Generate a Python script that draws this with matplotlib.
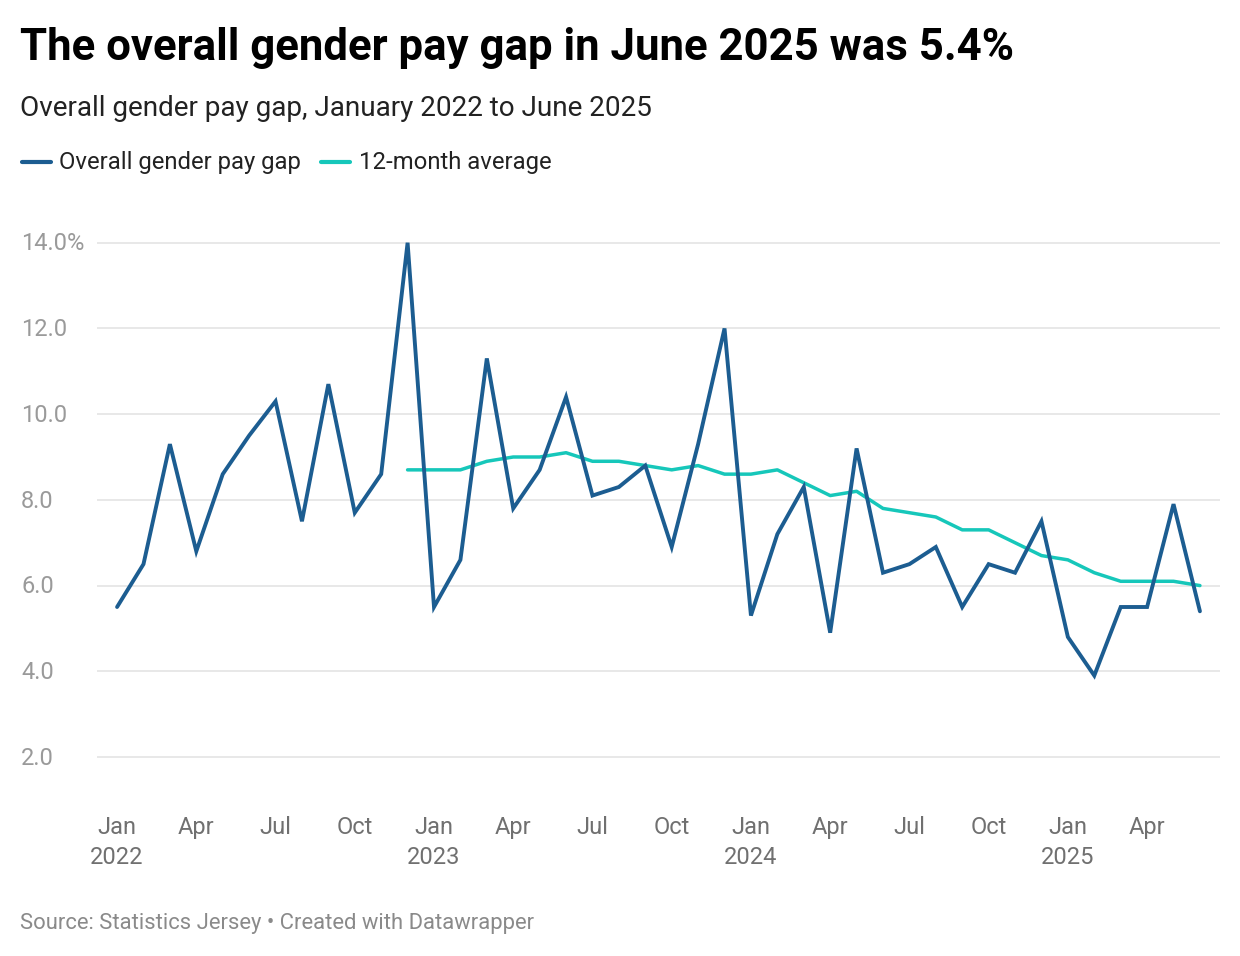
import numpy as np
import matplotlib
matplotlib.use("Agg")
from matplotlib import pyplot as plt
from matplotlib.transforms import blended_transform_factory

plt.rcParams['font.family'] = ['Roboto', 'DejaVu Sans']

# monthly values, Jan 2022 .. Jun 2025
pay_gap = [5.5, 6.5, 9.3, 6.8, 8.6, 9.5, 10.3, 7.5, 10.7, 7.7, 8.6, 14.0,
           5.5, 6.6, 11.3, 7.8, 8.7, 10.4, 8.1, 8.3, 8.8, 6.9, 9.3, 12.0,
           5.3, 7.2, 8.3, 4.9, 9.2, 6.3, 6.5, 6.9, 5.5, 6.5, 6.3, 7.5,
           4.8, 3.9, 5.5, 5.5, 7.9, 5.4]
# 12-month average, Dec 2022 .. Jun 2025
avg_12m = [8.7, 8.7, 8.7, 8.9, 9.0, 9.0, 9.1, 8.9, 8.9, 8.8, 8.7, 8.8,
           8.6, 8.6, 8.7, 8.4, 8.1, 8.2, 7.8, 7.7, 7.6, 7.3, 7.3, 7.0,
           6.7, 6.6, 6.3, 6.1, 6.1, 6.1, 6.0]
avg_start = 11

month_names = ['Jan', 'Apr', 'Jul', 'Oct']
years = [2022, 2023, 2024, 2025]
y_ticks = [2, 4, 6, 8, 10, 12, 14]

BLUE = '#1c5d91'
TEAL = '#16c7ba'

W, H = 1240, 956
fig = plt.figure(figsize=(W / 100, H / 100), dpi=100)
ax = fig.add_axes([97 / W, 1 - 790 / H, (1220 - 97) / W, (790 - 235) / H])

x = np.arange(len(pay_gap))
x_avg = np.arange(avg_start, avg_start + len(avg_12m))

ax.plot(x_avg, avg_12m, color=TEAL, lw=2.5, solid_capstyle='round', zorder=3)
ax.plot(x, pay_gap, color=BLUE, lw=2.8, solid_capstyle='round',
        solid_joinstyle='miter', zorder=4)

ax.set_xlim(-0.76, len(pay_gap) - 1 + 0.76)
ax.set_ylim(1.23, 14.18)

for s in ax.spines.values():
    s.set_visible(False)

# gridlines + y labels
ax.set_yticks(y_ticks)
ax.yaxis.grid(True, color='#e2e2e2', lw=1.1)
ax.tick_params(axis='y', length=0, labelleft=False)
ax.set_axisbelow(True)
tr = blended_transform_factory(fig.transFigure, ax.transData)
for v in y_ticks:
    lab = f'{v:.1f}%' if v == max(y_ticks) else f'{v:.1f}'
    ax.text(21 / W, v - 0.03, lab, transform=tr, ha='left', va='center',
            fontsize=17, color='#9a9a9a')

# x ticks
xt = np.arange(0, len(pay_gap), 3)
labels = []
for i in xt:
    m = month_names[(i % 12) // 3]
    if i % 12 == 0:
        labels.append(f'{m}\n{years[i // 12]}')
    else:
        labels.append(m)
ax.set_xticks(xt)
ax.set_xticklabels(labels, fontsize=17, color='#707070', linespacing=1.37,
                   va='top')
ax.tick_params(axis='x', length=0, pad=19)

# titles
fig.text(20 / W, 1 - 48 / H, 'The overall gender pay gap in June 2025 was 5.4%',
         fontsize=31.5, fontweight='bold', color='#000000', va='center')
fig.text(20 / W, 1 - 109 / H, 'Overall gender pay gap, January 2022 to June 2025',
         fontsize=20.1, color='#222222', va='center')

# legend
ly = 1 - 162 / H
fig.add_artist(plt.Line2D([22 / W, 51 / W], [ly, ly], color=BLUE, lw=3,
                          solid_capstyle='round'))
fig.text(59 / W, ly - 1 / H, 'Overall gender pay gap', fontsize=17.2,
         color='#222222', va='center')
fig.add_artist(plt.Line2D([321 / W, 350 / W], [ly, ly], color=TEAL, lw=3,
                          solid_capstyle='round'))
fig.text(359 / W, ly - 1 / H, '12-month average', fontsize=17.2,
         color='#222222', va='center')

fig.text(20 / W, 1 - 924 / H, 'Source: Statistics Jersey \u2022 Created with Datawrapper',
         fontsize=15.8, color='#8a8a8a', va='center')

fig.savefig('out.png', dpi=100, facecolor='white')
